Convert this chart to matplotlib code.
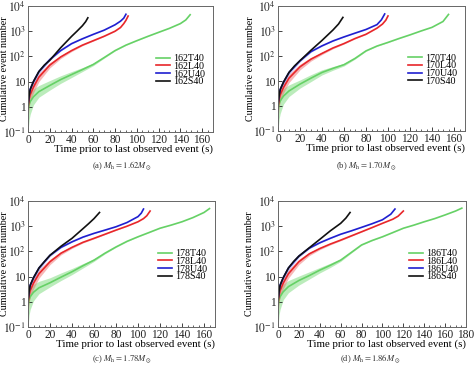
import matplotlib
matplotlib.use("Agg")
import matplotlib.pyplot as plt
from matplotlib.ticker import FixedLocator, FixedFormatter, MultipleLocator

plt.rcParams['font.family'] = ['Liberation Serif', 'DejaVu Serif']
plt.rcParams['mathtext.fontset'] = 'stix'

# ---------------- data ----------------
models = ["T40", "L40", "U40", "S40"]
masses = ["162", "170", "178", "186"]
captions = [r"(a) $M_\mathrm{h}=1.62M_\odot$", r"(b) $M_\mathrm{h}=1.70M_\odot$",
            r"(c) $M_\mathrm{h}=1.78M_\odot$", r"(d) $M_\mathrm{h}=1.86M_\odot$"]
xmax = [170, 170, 170, 180]
yticks = [0.1, 1, 10, 100, 1000, 10000]
yticklabels = [r"$10^{-1}$", "1", "10", r"$10^{2}$", r"$10^{3}$", r"$10^{4}$"]

# panel (a) 1.62
t_162T40 = [0, 1, 2, 5, 10, 20, 30, 40, 50, 60, 70, 80, 90, 100, 110, 120, 130, 140, 145, 149]
n_162T40 = [0.6, 1.2, 1.6, 2.5, 4, 7, 12, 19, 30, 48, 90, 170, 280, 420, 620, 900, 1300, 2000, 2800, 4500]
lo_162T40 = [0.1, 0.3, 0.5, 1.2, 2.4, 4.6, 8.5, 14.5, 25, 43, 85, 165, 275, 415, 615, 895, 1295, 1990, 2790, 4490]
hi_162T40 = [1.6, 2.8, 3.5, 5, 7, 11, 17, 25, 36, 54, 95, 175, 285, 425, 625, 905, 1305, 2010, 2810, 4510]
t_162L40 = [0, 1, 2, 5, 10, 20, 30, 40, 50, 60, 70, 80, 85, 88, 90, 92]
n_162L40 = [0.8, 2, 3, 6, 15, 45, 95, 170, 280, 420, 630, 1000, 1400, 2000, 2700, 4000]
lo_162L40 = [0.3, 1.0, 1.6, 3.6, 10, 35, 82, 155, 265, 405, 615, 985, 1390, 1990, 2690, 3990]
hi_162L40 = [1.9, 3.4, 4.8, 9, 21, 56, 108, 185, 295, 435, 645, 1015, 1410, 2010, 2710, 4010]
t_162U40 = [0, 1, 2, 5, 10, 20, 30, 40, 50, 60, 70, 80, 85, 88, 90]
n_162U40 = [1.2, 3, 5, 10, 25, 75, 170, 320, 500, 750, 1100, 1800, 2500, 3300, 4700]
lo_162U40 = [0.6, 2.0, 3.7, 8, 21, 68, 162, 312, 492, 742, 1092, 1792, 2495, 3295, 4695]
hi_162U40 = [2.4, 4.2, 6.5, 12.5, 29, 82, 178, 328, 508, 758, 1108, 1808, 2505, 3305, 4705]
t_162S40 = [0, 1, 2, 5, 10, 15, 20, 30, 40, 45, 50, 53, 55]
n_162S40 = [1.0, 2.8, 4.8, 10, 25, 45, 70, 220, 620, 1000, 1650, 2400, 3400]

# panel (b) 1.70
t_170T40 = [0, 1, 2, 5, 10, 20, 30, 40, 50, 60, 70, 80, 90, 100, 110, 120, 130, 140, 150, 155]
n_170T40 = [0.6, 1.2, 1.6, 2.5, 4, 7.5, 13, 22, 32, 45, 80, 160, 250, 350, 500, 700, 1000, 1400, 2400, 4600]
lo_170T40 = [0.1, 0.3, 0.5, 1.2, 2.4, 5.2, 9.5, 17.5, 27, 40, 75, 155, 245, 345, 495, 695, 995, 1395, 2395, 4595]
hi_170T40 = [1.6, 2.8, 3.5, 5, 7, 11, 18, 28, 38, 51, 86, 165, 255, 355, 505, 705, 1005, 1405, 2405, 4605]
t_170L40 = [0, 1, 2, 5, 10, 20, 30, 40, 50, 60, 70, 80, 90, 95, 98, 100]
n_170L40 = [0.8, 1.8, 2.8, 5.5, 13, 37, 75, 127, 210, 315, 500, 740, 1300, 1900, 2700, 4000]
lo_170L40 = [0.3, 0.9, 1.5, 3.3, 8.7, 28, 63, 114, 196, 300, 485, 725, 1290, 1890, 2690, 3990]
hi_170L40 = [1.9, 3.2, 4.5, 8.5, 19, 47, 88, 141, 225, 330, 515, 755, 1310, 1910, 2710, 4010]
t_170U40 = [0, 1, 2, 5, 10, 20, 30, 40, 50, 60, 70, 80, 90, 94, 97]
n_170U40 = [1.2, 2.8, 4.6, 9, 22, 65, 150, 255, 400, 580, 820, 1150, 1800, 2800, 4800]
lo_170U40 = [0.6, 1.9, 3.4, 7.3, 18.5, 58, 142, 247, 392, 572, 812, 1142, 1795, 2795, 4795]
hi_170U40 = [2.4, 4.0, 6.1, 11.5, 26, 72, 158, 263, 408, 588, 828, 1158, 1805, 2805, 4805]
t_170S40 = [0, 1, 2, 5, 10, 15, 20, 30, 40, 45, 50, 55, 59]
n_170S40 = [1.0, 2.6, 4.5, 9, 22, 40, 65, 170, 420, 680, 1100, 1900, 3500]

# panel (c) 1.78
t_178T40 = [0, 1, 2, 5, 10, 20, 30, 40, 50, 60, 70, 80, 90, 100, 110, 120, 130, 140, 150, 160, 165]
n_178T40 = [0.6, 1.2, 1.6, 2.4, 3.6, 5.7, 9.5, 15.6, 27, 45, 85, 150, 250, 380, 560, 830, 1100, 1500, 2200, 3500, 5000]
lo_178T40 = [0.1, 0.3, 0.5, 1.1, 2.1, 3.9, 7, 12, 22, 40, 80, 145, 245, 375, 555, 825, 1095, 1495, 2195, 3495, 4995]
hi_178T40 = [1.6, 2.8, 3.5, 4.9, 6.5, 9, 14, 21, 33, 51, 91, 155, 255, 385, 565, 835, 1105, 1505, 2205, 3505, 5005]
t_178L40 = [0, 1, 2, 5, 10, 20, 30, 40, 50, 60, 70, 80, 90, 100, 105, 108, 111]
n_178L40 = [0.8, 1.8, 2.8, 5.5, 13, 39, 85, 145, 230, 330, 480, 700, 1000, 1500, 2000, 2600, 4000]
lo_178L40 = [0.3, 0.9, 1.5, 3.3, 8.7, 30, 73, 132, 216, 315, 465, 685, 990, 1490, 1990, 2590, 3990]
hi_178L40 = [1.9, 3.2, 4.5, 8.5, 19, 49, 98, 159, 245, 345, 495, 715, 1010, 1510, 2010, 2610, 4010]
t_178U40 = [0, 1, 2, 5, 10, 20, 30, 40, 50, 60, 70, 80, 90, 100, 103, 105]
n_178U40 = [1.2, 2.8, 4.6, 9, 22, 70, 145, 240, 370, 520, 700, 950, 1400, 2400, 3300, 4800]
lo_178U40 = [0.6, 1.9, 3.4, 7.3, 18.5, 63, 137, 232, 362, 512, 692, 942, 1395, 2395, 3295, 4795]
hi_178U40 = [2.4, 4.0, 6.1, 11.5, 26, 77, 153, 248, 378, 528, 708, 958, 1405, 2405, 3305, 4805]
t_178S40 = [0, 1, 2, 5, 10, 15, 20, 30, 40, 50, 55, 60, 65]
n_178S40 = [1.0, 2.6, 4.5, 9, 22, 40, 70, 160, 330, 800, 1250, 2000, 3500]

# panel (d) 1.86
t_186T40 = [0, 1, 2, 5, 10, 20, 30, 40, 50, 60, 70, 80, 90, 100, 110, 120, 130, 140, 150, 160, 170, 176]
n_186T40 = [0.6, 1.2, 1.6, 2.5, 4, 7, 11, 18, 28, 45, 90, 180, 270, 380, 560, 830, 1100, 1500, 2000, 2800, 4000, 5200]
lo_186T40 = [0.1, 0.3, 0.5, 1.2, 2.3, 4.6, 8, 14, 23, 40, 85, 175, 265, 375, 555, 825, 1095, 1495, 1995, 2795, 3995, 5195]
hi_186T40 = [1.6, 2.8, 3.5, 5, 7, 10.5, 15.5, 23, 34, 51, 96, 185, 275, 385, 565, 835, 1105, 1505, 2005, 2805, 4005, 5205]
t_186L40 = [0, 1, 2, 5, 10, 20, 30, 40, 50, 60, 70, 80, 90, 100, 110, 115, 120]
n_186L40 = [0.8, 1.8, 2.8, 5.5, 13, 39, 80, 130, 195, 280, 410, 600, 880, 1300, 1900, 2500, 4000]
lo_186L40 = [0.3, 0.9, 1.5, 3.3, 8.7, 30, 68, 117, 181, 265, 395, 585, 870, 1290, 1890, 2490, 3990]
hi_186L40 = [1.9, 3.2, 4.5, 8.5, 19, 49, 93, 144, 210, 295, 425, 615, 890, 1310, 1910, 2510, 4010]
t_186U40 = [0, 1, 2, 5, 10, 20, 30, 40, 50, 60, 70, 80, 90, 100, 108, 112]
n_186U40 = [1.2, 2.8, 4.6, 9, 22, 65, 135, 220, 330, 480, 650, 900, 1250, 1800, 3000, 4800]
lo_186U40 = [0.6, 1.9, 3.4, 7.3, 18.5, 58, 127, 212, 322, 472, 642, 892, 1245, 1795, 2995, 4795]
hi_186U40 = [2.4, 4.0, 6.1, 11.5, 26, 72, 143, 228, 338, 488, 658, 908, 1255, 1805, 3005, 4805]
t_186S40 = [0, 1, 2, 5, 10, 15, 20, 30, 40, 50, 60, 65, 69]
n_186S40 = [1.0, 2.6, 4.5, 9, 22, 40, 65, 140, 300, 650, 1300, 2100, 3500]

series = {
    "162": [(t_162T40, n_162T40, lo_162T40, hi_162T40), (t_162L40, n_162L40, lo_162L40, hi_162L40),
            (t_162U40, n_162U40, lo_162U40, hi_162U40), (t_162S40, n_162S40, None, None)],
    "170": [(t_170T40, n_170T40, lo_170T40, hi_170T40), (t_170L40, n_170L40, lo_170L40, hi_170L40),
            (t_170U40, n_170U40, lo_170U40, hi_170U40), (t_170S40, n_170S40, None, None)],
    "178": [(t_178T40, n_178T40, lo_178T40, hi_178T40), (t_178L40, n_178L40, lo_178L40, hi_178L40),
            (t_178U40, n_178U40, lo_178U40, hi_178U40), (t_178S40, n_178S40, None, None)],
    "186": [(t_186T40, n_186T40, lo_186T40, hi_186T40), (t_186L40, n_186L40, lo_186L40, hi_186L40),
            (t_186U40, n_186U40, lo_186U40, hi_186U40), (t_186S40, n_186S40, None, None)],
}

# ---------------- style ----------------
line_colors = ["#66d166", "#e8262a", "#1f1fd0", "#111111"]
band_colors = ["#8fe08f", "#f07070", "#7070f0", None]
band_alpha = [0.6, 0.5, 0.45, 0]

W, H = 474, 366
fig = plt.figure(figsize=(W / 100, H / 100), dpi=100)
boxes = [(28, 213, 6, 132), (278, 465, 6, 131), (28, 215, 201, 327), (278, 466, 201, 327)]
cap_pos = [(122, 166), (366, 166), (122, 359), (370, 359)]

for i, m in enumerate(masses):
    l, r, t, b = boxes[i]
    ax = fig.add_axes([l / W, 1 - b / H, (r - l) / W, (b - t) / H])
    handles = []
    for j, (tt, nn, lo, hi) in enumerate(series[m]):
        if lo is not None:
            ax.fill_between(tt, lo, hi, color=band_colors[j], alpha=band_alpha[j], lw=0)
        h, = ax.plot(tt, nn, color=line_colors[j], lw=1.2, label=m + models[j])
        handles.append(h)
    ax.set_yscale("log")
    ax.set_ylim(0.1, 10000)
    ax.set_xlim(0, xmax[i])
    ax.yaxis.set_major_locator(FixedLocator(yticks))
    ax.yaxis.set_major_formatter(FixedFormatter(yticklabels))
    ax.yaxis.set_minor_locator(FixedLocator([]))
    ax.xaxis.set_major_locator(MultipleLocator(20))
    ax.xaxis.set_minor_locator(MultipleLocator(5))
    ax.tick_params(which="both", direction="in", labelsize=8.3, pad=1.5, colors="#222222")
    ax.tick_params(which="major", length=3, width=0.6)
    ax.tick_params(which="minor", length=1.5, width=0.5)
    for s in ax.spines.values():
        s.set_linewidth(0.7)
        s.set_color("#666666")
    ax.set_xlabel("Time prior to last observed event (s)", fontsize=7.8, labelpad=-1.0, loc="right")
    ax.set_ylabel("Cumulative event number", fontsize=7.2)
    ax.yaxis.set_label_coords(-0.1 if i % 2 == 0 else -0.125, 0.5)
    ax.legend(handles=handles, loc="center right", bbox_to_anchor=(0.99, 0.49), frameon=False,
              fontsize=7.2, labelspacing=-0.12, handlelength=1.4, handletextpad=0.3, borderpad=0.1)
    cx, cy = cap_pos[i]
    fig.text(cx / W, 1 - cy / H, captions[i], fontsize=6.2, ha="center", va="center", color="#333333")

fig.savefig("out.png", dpi=100)
